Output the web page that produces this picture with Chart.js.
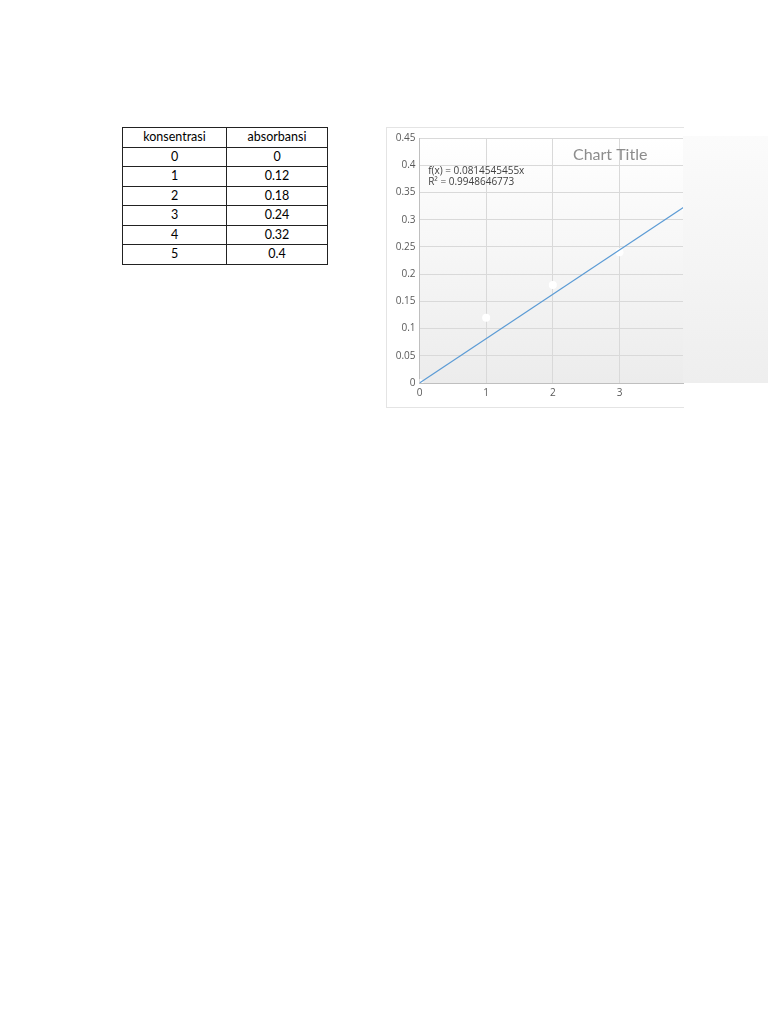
<!DOCTYPE html>
<html>
<head>
<meta charset="utf-8">
<script src="https://cdn.jsdelivr.net/npm/chart.js@4/dist/chart.umd.min.js"></script>
<style>
  body { margin: 0; background: #fff; width: 768px; height: 1024px; position: relative; overflow: hidden; }
  table { position: absolute; left: 122px; top: 127px; border-collapse: collapse; font-family: Lato, "Open Sans", sans-serif; font-size: 12.5px; color: #000; }
  td { border: 1px solid #222; height: 18.5px; padding: 0; text-align: center; line-height: 18px; }
  td.c1 { width: 103px; }
  td.c2 { width: 100px; }
  #wrap { position: absolute; left: 386px; top: 127px; width: 297px; height: 279px; overflow: hidden;
          border-top: 1px solid #e4e4e4; border-left: 1px solid #e4e4e4; border-bottom: 1px solid #e4e4e4; }
  #panel { position: absolute; left: 683px; top: 136px; width: 85px; height: 247px;
           background: linear-gradient(#fbfbfb, #eeeeee); }
</style>
</head>
<body>
<table id="tbl"></table>
<div id="wrap"><canvas id="myChart" width="445" height="279"></canvas></div>
<div id="panel"></div>
<script>
var konsentrasi = [0, 1, 2, 3, 4, 5];
var absorbansi = [0, 0.12, 0.18, 0.24, 0.32, 0.4];
var trendX = [0, 5];
var trendY = [0, 0.4073];
var xTickLabels = ['0', '1', '2', '3'];
var yTicks = [0, 0.05, 0.1, 0.15, 0.2, 0.25, 0.3, 0.35, 0.4, 0.45];
var equation = ['f(x) = 0.0814545455x', 'R\u00b2 = 0.9948646773'];
var chartTitle = 'Chart Title';

// table
var tbl = document.getElementById('tbl');
var html = '<tr><td class="c1">konsentrasi</td><td class="c2">absorbansi</td></tr>';
for (var i = 0; i < konsentrasi.length; i++) {
    html += '<tr><td class="c1">' + konsentrasi[i] + '</td><td class="c2">' + absorbansi[i] + '</td></tr>';
}
tbl.innerHTML = html;

var plotBg = {
    id: 'plotBg',
    beforeDraw: function (chart) {
        var a = chart.chartArea, c = chart.ctx;
        var g = c.createLinearGradient(0, a.top, 0, a.bottom);
        g.addColorStop(0, '#ffffff');
        g.addColorStop(1, '#ececec');
        c.save();
        c.fillStyle = g;
        c.fillRect(a.left, a.top, a.right - a.left, a.bottom - a.top);
        c.restore();
    },
    afterDraw: function (chart) {
        var c = chart.ctx, xs = chart.scales.x, ys = chart.scales.y;
        c.save();
        c.fillStyle = '#8c8c8c';
        c.font = '16px Lato, "Open Sans", sans-serif';
        c.textAlign = 'center';
        c.textBaseline = 'middle';
        c.fillText(chartTitle, xs.getPixelForValue(2.86), ys.getPixelForValue(0.419));
        c.fillStyle = '#404040';
        c.font = '10px "Open Sans", sans-serif';
        c.textAlign = 'left';
        c.fillText(equation[0], xs.getPixelForValue(0.13), ys.getPixelForValue(0.39));
        c.fillText(equation[1], xs.getPixelForValue(0.13), ys.getPixelForValue(0.368));
        c.restore();
    }
};

var ctx = document.getElementById('myChart');
new Chart(ctx, {
    type: 'scatter',
    data: {
        datasets: [
            {
                type: 'line',
                data: trendX.map(function (x, i) { return { x: x, y: trendY[i] }; }),
                borderColor: '#5b9bd5',
                borderWidth: 1.2,
                pointRadius: 0,
                fill: false
            },
            {
                data: konsentrasi.map(function (x, i) { return { x: x, y: absorbansi[i] }; }),
                backgroundColor: '#ffffff',
                borderWidth: 0,
                pointRadius: 4
            }
        ]
    },
    options: {
        responsive: false,
        animation: false,
        layout: { padding: { top: 9, right: 12.5, left: 0, bottom: 0 } },
        plugins: { legend: { display: false }, tooltip: { enabled: false } },
        scales: {
            x: {
                type: 'linear', min: 0, max: 6,
                ticks: {
                    stepSize: 1, color: '#595959', font: { size: 10, family: '"Open Sans", sans-serif' }, padding: 4,
                    callback: function (v) { return xTickLabels.indexOf(String(v)) >= 0 ? String(v) : ''; }
                },
                grid: { color: '#d9d9d9', drawTicks: false },
                border: { color: '#bfbfbf' },
                afterFit: function (s) { s.height = 24; }
            },
            y: {
                min: 0, max: 0.45,
                afterBuildTicks: function (s) { s.ticks = yTicks.map(function (v) { return { value: v }; }); },
                ticks: {
                    color: '#595959', font: { size: 10, family: '"Open Sans", sans-serif' }, padding: 4,
                    callback: function (v) { return String(+v.toFixed(2)); }
                },
                grid: { color: '#d9d9d9', drawTicks: false },
                border: { color: '#bfbfbf' },
                afterFit: function (s) { s.width = 32.5; }
            }
        }
    },
    plugins: [plotBg]
});
</script>
</body>
</html>
